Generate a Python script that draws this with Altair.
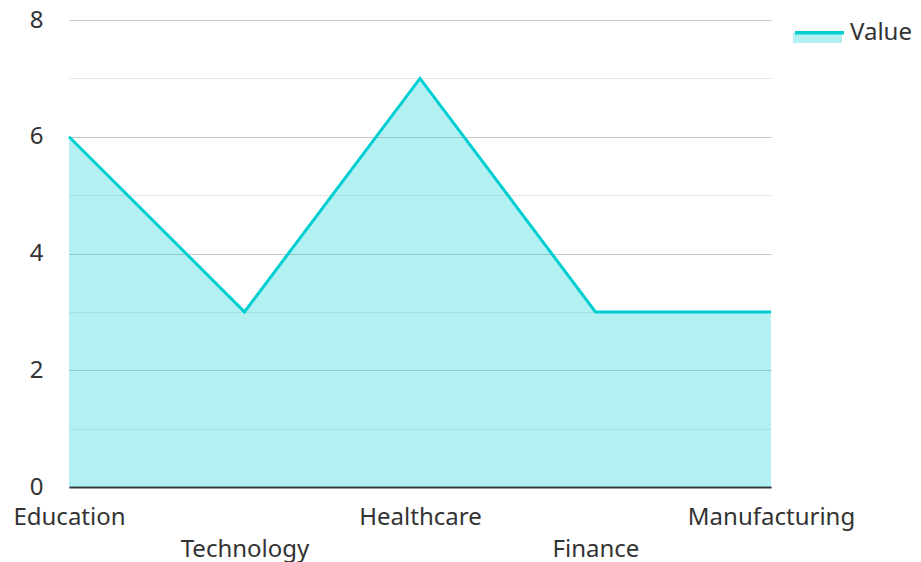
import altair as alt
import pandas as pd

categories = ["Education", "Technology", "Healthcare", "Finance", "Manufacturing"]
values = [6, 3, 7, 3, 3]
series = ["Value"] * len(categories)

df = pd.DataFrame({"category": categories, "value": values, "series": series})

FONT = "Noto Sans"
TEAL = "#00CED1"
FS = 24

x_enc = alt.X(
    "category:N",
    sort=categories,
    scale=alt.Scale(type="point", padding=0),
    axis=alt.Axis(
        title=None,
        labelAngle=0,
        labelFontSize=FS,
        labelFont=FONT,
        labelColor="#333333",
        labelPadding=18,
        labelLineHeight=32,
        labelBaseline="top",
        labelExpr="indexof(['Technology','Finance'], datum.value) >= 0 ? ['', datum.value] : datum.value",
        ticks=False,
        grid=False,
        domainColor="#333333",
        domainWidth=2,
    ),
)

y_enc = alt.Y(
    "value:Q",
    scale=alt.Scale(domain=[0, 8], nice=False),
    axis=alt.Axis(
        title=None,
        values=[0, 1, 2, 3, 4, 5, 6, 7, 8],
        labelExpr="datum.value % 2 == 0 ? datum.label : ''",
        labelFontSize=FS,
        labelFont=FONT,
        labelColor="#333333",
        labelPadding=26,
        ticks=False,
        domain=False,
        gridColor={"condition": {"test": "datum.value % 2 == 0", "value": "#c8c8c8"}, "value": "#e8e8e8"},
        gridWidth=1.2,
    ),
)

LX = 724
LY = -12

area = alt.Chart(df).mark_area(opacity=0.3).encode(
    x=x_enc,
    y=y_enc,
    fill=alt.Fill(
        "series:N",
        scale=alt.Scale(range=[TEAL]),
        legend=alt.Legend(
            orient="none", legendX=LX, legendY=LY, title=None,
            symbolType="M-1,0L1,0L1,0.43L-1,0.43Z", symbolSize=2401,
            symbolOpacity=0.3, symbolStrokeWidth=0,
            labelFontSize=FS, labelFont=FONT, labelColor="#333333",
            labelOffset=8, padding=0,
        ),
    ),
)

line = alt.Chart(df).mark_line(strokeWidth=3).encode(
    x=x_enc,
    y=y_enc,
    stroke=alt.Stroke(
        "series:N",
        scale=alt.Scale(range=[TEAL]),
        legend=alt.Legend(
            orient="none", legendX=LX, legendY=LY, title=None,
            symbolType="M-1,-0.07L1,-0.07", symbolSize=2401, symbolStrokeWidth=3.4,
            labelExpr="''",
            labelFontSize=FS, labelFont=FONT, labelColor="#333333",
            labelOffset=8, padding=0,
        ),
    ),
)

chart = alt.layer(area, line).resolve_scale(fill="independent", stroke="independent").properties(
    width=702,
    height=467,
    autosize=alt.AutoSizeParams(type="none"),
    padding={"left": 61, "top": 12, "right": 142, "bottom": 80},
).configure_view(stroke=None)

chart.save("out.html", embed_options={"renderer": "svg", "actions": False})
